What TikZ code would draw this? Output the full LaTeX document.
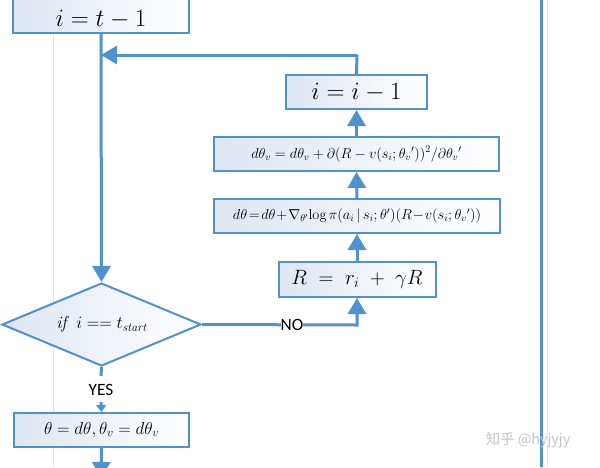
\documentclass[tikz,border=0pt]{standalone}
\usepackage{fontspec}
\setsansfont{Carlito}
\newfontfamily\cjk{Noto Sans CJK SC}
\usetikzlibrary{shapes.geometric,arrows.meta}
\definecolor{lb}{RGB}{79,146,206}
\definecolor{fillb}{RGB}{222,230,242}
\tikzset{
 box/.style={draw=lb,line width=2pt,rectangle,left color=fillb,right color=white,inner sep=0pt},
 conn/.style={draw=lb,line width=3pt},
 arr/.style={conn,-{Triangle[length=16pt,width=18pt]}},
 lbl/.style={font=\sffamily\LARGE}
}
\begin{document}
\begin{tikzpicture}[x=1pt,y=-1pt]
\useasboundingbox (0,0) rectangle (600,467);
\fill[white] (0,0) rectangle (600,467);
\draw[gray!20,line width=0.6pt] (53,0) -- (53,467);
\draw[gray!20,line width=0.6pt] (547,0) -- (547,467);
\node[box,minimum width=176pt,minimum height=48pt] (top) at (101,9) {};
\node (toptext) at (101,19) {\Huge $i=t-1$};
\node[box,minimum width=141pt,minimum height=34pt] (dec) at (356.5,92) {\Huge $i=i-1$};
\node[box,minimum width=285pt,minimum height=34pt] (gv) at (356.5,154) {\Large $d\theta_v=d\theta_v+\partial(R-v(s_i;\theta_v{}'))^2/\partial\theta_v{}'$};
\node[box,minimum width=286pt,minimum height=34pt] (gp) at (357,216) {\Large $d\theta\!=\!d\theta\!+\!\nabla_{\theta'}\!\log\pi(a_i\,|\,s_i;\theta')(R\!-\!v(s_i;\theta_v{}'))$};
\node[box,minimum width=157pt,minimum height=35pt] (R) at (357,279.5) {\huge $R\;=\;r_i\;+\;\gamma R$};
\node[diamond,aspect=2.4,draw=lb,line width=2pt,left color=fillb,right color=white,minimum width=199pt,minimum height=83pt,inner sep=0pt] (if) at (101.5,324.5) {\LARGE $\mathit{if}\;\; i==t_{\mathit{start}}$};
\node[box,minimum width=175pt,minimum height=34pt] (upd) at (101.5,430) {\LARGE $\theta=d\theta,\theta_v=d\theta_v$};
\coordinate (ret) at (101,55);
\coordinate (retstart) at (357,55);
\coordinate (nocorner) at (357,325);
\coordinate (bot) at (101,478);
\draw[arr] (top.south) -- (if.north);
\draw[conn] (dec.north) -- (retstart);
\draw[arr] (retstart) -- (ret);
\draw[arr] (gv.north) -- (dec.south);
\draw[arr] (gp.north) -- (gv.south);
\draw[arr] (R.north) -- (gp.south);
\draw[arr] (if.east) -- (nocorner) -- (R.south);
\node[lbl,fill=white,inner sep=0pt] at (292,325) {NO};
\draw[conn] (if.south) -- (101,376);
\node[lbl] at (101,390) {YES};
\draw[conn,-{Triangle[length=7pt,width=10pt]}] (101,402) -- (upd.north);
\draw[arr] (upd.south) -- (bot);
\draw[conn] (541,0) -- (541,467);
\node[gray!45,font=\cjk\Large] at (528,440) {知乎 @hyjyjy};
\end{tikzpicture}
\end{document}
